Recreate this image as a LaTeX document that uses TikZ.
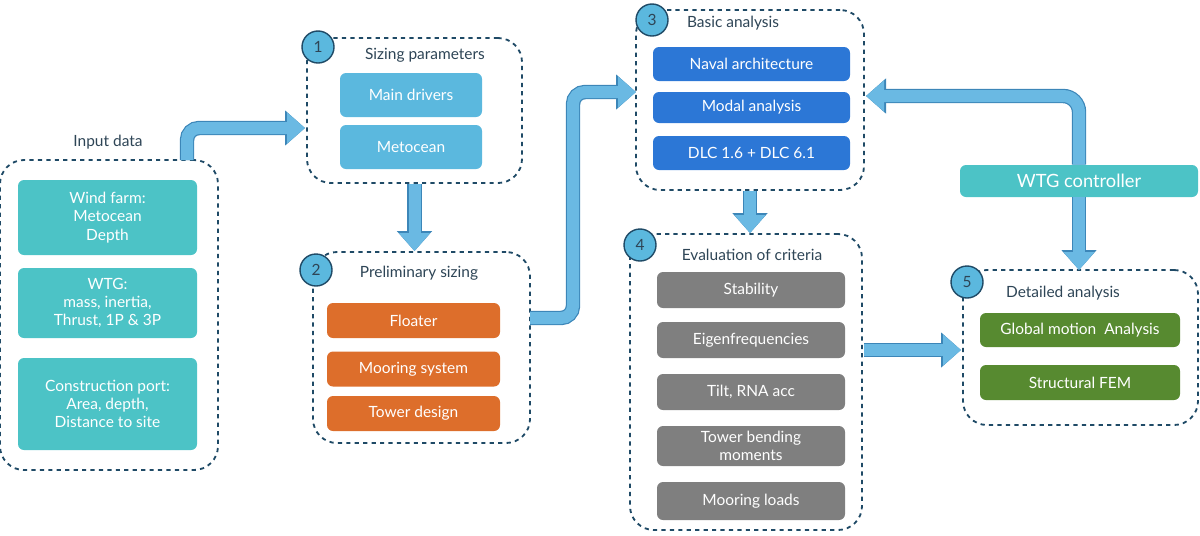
\documentclass[tikz,border=0pt]{standalone}
\usepackage{fontspec}
\setmainfont{Lato}
\usetikzlibrary{arrows.meta}
\definecolor{teal1}{HTML}{4CC3C6}
\definecolor{skyb}{HTML}{5BB8DE}
\definecolor{navy}{HTML}{2C77D6}
\definecolor{orng}{HTML}{DD6E2B}
\definecolor{gry}{HTML}{7F7F7F}
\definecolor{grn}{HTML}{578A30}
\definecolor{dashc}{HTML}{1F4A66}
\definecolor{txtc}{HTML}{2E4556}
\definecolor{arrb}{HTML}{6AB9E3}
\definecolor{arro}{HTML}{3C86B8}
\begin{document}
\begin{tikzpicture}[x=0.025cm,y=-0.025cm,
    group/.style={draw=dashc,dashed,line width=1.3pt,rounded corners=0.6cm,inner sep=0pt},
    item/.style={rounded corners=0.15cm,text=white,align=center,inner sep=0pt,font=\fontsize{11}{13}\selectfont},
    title/.style={text=txtc,font=\fontsize{11}{13}\selectfont},
    num/.style={circle,fill=skyb,draw=dashc,line width=1pt,minimum size=0.8cm,inner sep=0pt,text=txtc,font=\fontsize{11}{13}\selectfont},
    flow/.style={line width=0.3cm,draw=arrb,-{Triangle[length=0.45cm,width=0.75cm]},
        preaction={draw=arro,line width=0.36cm,-{Triangle[length=0.5cm,width=0.85cm]}}}]
  \useasboundingbox (0,0) rectangle (1200,535);

  % input data
  \node[title] (tin) at (108,142) {Input data};
  \node[group,minimum width=218*0.025cm,minimum height=310*0.025cm] (gin) at (109,315) {};
  \node[item,fill=teal1,minimum width=179*0.025cm,minimum height=75*0.025cm] (wf) at (107.5,217.5) {Wind farm:\\Metocean\\Depth};
  \node[item,fill=teal1,minimum width=179*0.025cm,minimum height=70*0.025cm] (wtg) at (107.5,303) {WTG:\\mass, inertia,\\Thrust, 1P \& 3P};
  \node[item,fill=teal1,minimum width=179*0.025cm,minimum height=92*0.025cm] (port) at (107.5,404) {Construction port:\\Area, depth,\\Distance to site};

  % 1 sizing parameters
  \node[group,minimum width=215*0.025cm,minimum height=145*0.025cm] (g1) at (414.5,110.5) {};
  \node[title] (t1) at (425,55) {Sizing parameters};
  \node[item,fill=skyb,minimum width=142*0.025cm,minimum height=44*0.025cm] (drv) at (411,95) {Main drivers};
  \node[item,fill=skyb,minimum width=142*0.025cm,minimum height=44*0.025cm] (met) at (411,147) {Metocean};
  \node[num] (n1) at (318,47) {1};

  % 2 preliminary sizing
  \node[group,minimum width=217*0.025cm,minimum height=191*0.025cm] (g2) at (421.5,347.5) {};
  \node[title] (t2) at (419,273) {Preliminary sizing};
  \node[item,fill=orng,minimum width=173*0.025cm,minimum height=35*0.025cm] (flt) at (413.5,320.5) {Floater};
  \node[item,fill=orng,minimum width=173*0.025cm,minimum height=35*0.025cm] (moor) at (413.5,369) {Mooring system};
  \node[item,fill=orng,minimum width=173*0.025cm,minimum height=35*0.025cm] (twr) at (413.5,413.5) {Tower design};
  \node[num] (n2) at (316,270) {2};

  % 3 basic analysis
  \node[group,minimum width=228*0.025cm,minimum height=180*0.025cm] (g3) at (750,100) {};
  \node[title] (t3) at (733,23) {Basic analysis};
  \node[item,fill=navy,minimum width=197*0.025cm,minimum height=34*0.025cm] (nav) at (751.5,64) {Naval architecture};
  \node[item,fill=navy,minimum width=197*0.025cm,minimum height=31*0.025cm] (mod) at (751.5,107.5) {Modal analysis};
  \node[item,fill=navy,minimum width=197*0.025cm,minimum height=34*0.025cm] (dlc) at (751.5,153) {DLC 1.6 + DLC 6.1};
  \node[num] (n3) at (652,20) {3};

  % 4 evaluation of criteria
  \node[group,minimum width=232*0.025cm,minimum height=296*0.025cm] (g4) at (746,382) {};
  \node[title] (t4) at (752,255) {Evaluation of criteria};
  \node[item,fill=gry,minimum width=188*0.025cm,minimum height=36*0.025cm] (stab) at (751,290) {Stability};
  \node[item,fill=gry,minimum width=188*0.025cm,minimum height=36*0.025cm] (eig) at (751,340) {Eigenfrequencies};
  \node[item,fill=gry,minimum width=188*0.025cm,minimum height=36*0.025cm] (tilt) at (751,392) {Tilt, RNA acc};
  \node[item,fill=gry,minimum width=188*0.025cm,minimum height=40*0.025cm] (bend) at (751,446) {Tower bending\\moments};
  \node[item,fill=gry,minimum width=188*0.025cm,minimum height=38*0.025cm] (mlds) at (751,501) {Mooring loads};
  \node[num] (n4) at (640,245) {4};

  % 5 detailed analysis
  \node[group,minimum width=235*0.025cm,minimum height=155*0.025cm] (g5) at (1080.5,347.5) {};
  \node[title] (t5) at (1063,293) {Detailed analysis};
  \node[item,fill=grn,minimum width=200*0.025cm,minimum height=34*0.025cm] (glob) at (1080,330) {Global motion\ \ Analysis};
  \node[item,fill=grn,minimum width=200*0.025cm,minimum height=35*0.025cm] (fem) at (1080,382.5) {Structural FEM};
  \node[num] (n5) at (967,282) {5};

  % controller
  \node[item,fill=teal1,minimum width=238*0.025cm,minimum height=32*0.025cm,font=\fontsize{13}{15}\selectfont] (ctrl) at (1079,181) {WTG controller};

  % connectors
  \coordinate (a0) at (187,160);
  \coordinate (a1) at (305,128);
  \draw[flow,rounded corners=0.3cm] (a0) -- (187,128) -- (a1);
  \draw[flow] (g1.south) -- (g2.north -| g1.south);
  \coordinate (b0) at (530,318);
  \coordinate (b1) at (636,92);
  \draw[flow,rounded corners=0.3cm] (b0) -- (573,318) -- (573,92) -- (b1);
  \draw[flow] (g3.south) -- (g4.north -| g3.south);
  \coordinate (c0) at (864,350);
  \coordinate (c1) at (961,350);
  \draw[flow] (c0) -- (c1);
  \coordinate (d1) at (866,96);
  \draw[flow,rounded corners=0.4cm] (ctrl.north) -- (ctrl.north |- d1) -- (d1);
  \coordinate (e1) at (1079,270);
  \draw[flow] (ctrl.south) -- (e1);
\end{tikzpicture}
\end{document}
